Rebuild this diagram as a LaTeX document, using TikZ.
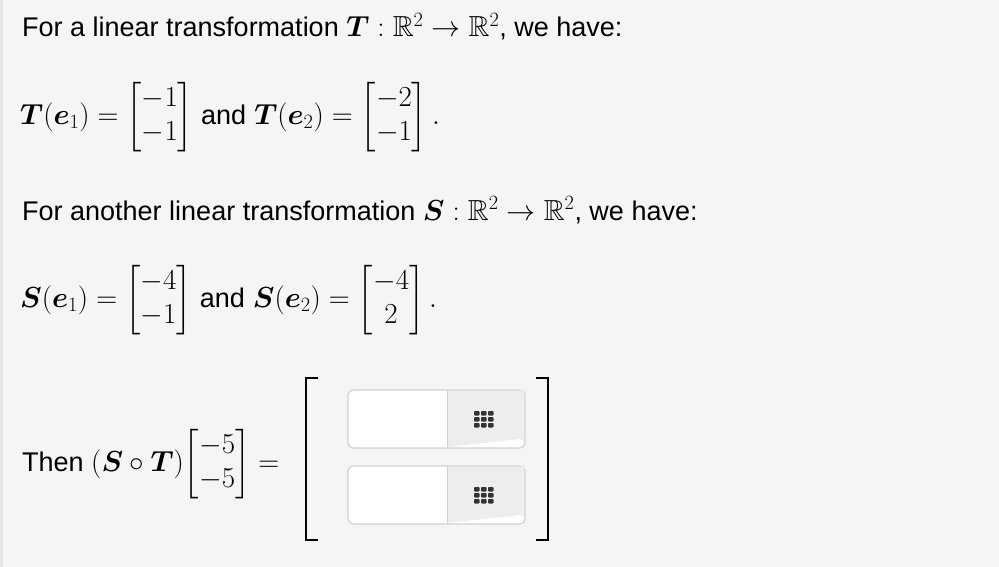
\RequirePackage{fix-cm}
\documentclass[tikz,border=0pt]{standalone}
\usepackage{amsmath,amssymb,bm}
\usepackage{fontspec}
\setmainfont{Liberation Sans}
\newcommand{\tf}{\fontsize{27}{32}\selectfont}
\newcommand{\mf}{\fontsize{29}{34}\selectfont}
\begin{document}
\begin{tikzpicture}[x=1pt,y=-1pt,
  txt/.style={anchor=base west,inner sep=0pt,font=\tf},
  mth/.style={anchor=west,inner sep=0pt,font=\mf},
  inbox/.style={draw=black!18,line width=1.2pt,rounded corners=5pt,fill=white},
  dot/.style={fill=black!80,rounded corners=0.8pt}]
\fill[black!4] (0,0) rectangle (999,567);
\fill[black!10] (0,0) rectangle (3,567);
\node[txt] (l1) at (22,37) {For a linear transformation {\mf$\bm{T}:\mathbb{R}^2\rightarrow\mathbb{R}^2$}, we have:};
\node[mth] (l2) at (20,117) {$\bm{T}(\bm{e}_1)=\begin{bmatrix}-1\\-1\end{bmatrix}$ {\tf and} $\bm{T}(\bm{e}_2)=\begin{bmatrix}-2\\-1\end{bmatrix}.$};
\node[txt] (l3) at (22,220) {For another linear transformation {\mf$\bm{S}:\mathbb{R}^2\rightarrow\mathbb{R}^2$}, we have:};
\node[mth] (l4) at (20,300) {$\bm{S}(\bm{e}_1)=\begin{bmatrix}-4\\-1\end{bmatrix}$ {\tf and} $\bm{S}(\bm{e}_2)=\begin{bmatrix}-4\\2\end{bmatrix}.$};
\node[txt] (then) at (22,471) {Then {\mf$(\bm{S}\circ\bm{T})\!\begin{bmatrix}-5\\-5\end{bmatrix}=$}};
% big bracket
\draw[line width=2pt] (318,378) -- (306,378) -- (306,540) -- (318,540);
\draw[line width=2pt] (536,378) -- (548,378) -- (548,540) -- (536,540);
\foreach \y/\n in {390/a,466/b}{
  \draw[inbox] (348,\y) rectangle (525,\y+58);
  \fill[black!7] (447,\y+1) -- (520,\y+1) arc (90:0:4) -- (524,\y+53) arc (0:-90:4) -- (447,\y+57) -- cycle;
  \draw[black!18,line width=1pt] (447,\y) -- (447,\y+58);
  \foreach \i in {0,1,2}{\foreach \j in {0,1,2}{
    \fill[dot] (474+\i*7,\y+21+\j*6) rectangle ++(5.5,4.5);}}
}
\end{tikzpicture}
\end{document}
